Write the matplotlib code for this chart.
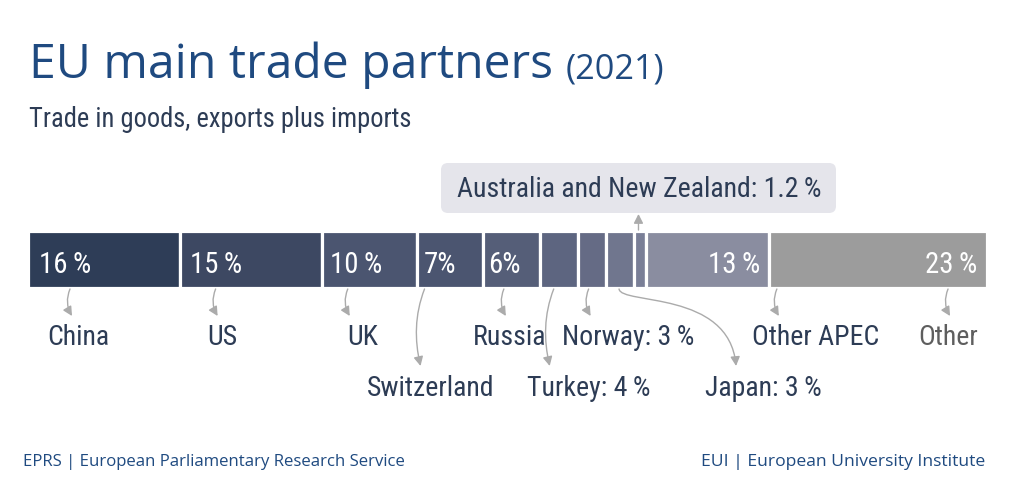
import matplotlib
matplotlib.use("Agg")
import matplotlib.pyplot as plt
import numpy as np
from matplotlib import font_manager
from matplotlib.ft2font import FT2Font
from matplotlib.patches import FancyArrowPatch, FancyBboxPatch
from matplotlib.path import Path
from matplotlib.transforms import Affine2D

# data: share of EU trade in goods (exports + imports), 2021, in %
partners = ["China", "US", "UK", "Switzerland", "Russia", "Turkey", "Norway",
            "Japan", "Australia and New Zealand", "Other APEC", "Other"]
shares = [16, 15, 10, 7, 6, 4, 3, 3, 1.2, 13, 23]
bar_labels = ["16 %", "15 %", "10 %", "7%", "6%", "", "", "", "", "13 %", "23 %"]
name_labels = ["China", "US", "UK", "Switzerland", "Russia", "Turkey: 4 %",
               "Norway: 3 %", "Japan: 3 %", "Australia and New Zealand: 1.2 %",
               "Other APEC", "Other"]
colors = ["#2e3d57", "#3d4862", "#4b5570", "#4b5570", "#555e78", "#5d6580",
          "#656b85", "#70768e", "#7a7f97", "#8a8da0", "#9c9c9c"]

W, H = 1036, 500
BLUE = "#1f4a80"
NAVY = "#2d3c55"
ARROW = "#ababab"

names = {f.name for f in font_manager.fontManager.ttflist}
narrow = {"family": "DejaVu Sans"}
for cand in ["Roboto Condensed", "Liberation Sans Narrow", "Open Sans Condensed",
             "Noto Sans Condensed", "DejaVu Sans Condensed"]:
    if cand in names:
        narrow = {"family": cand}
        break
regular = {"family": "Open Sans" if "Open Sans" in names else "DejaVu Sans"}

# the reference puts a thin space before "%"; use it when the font has one
try:
    fpath = font_manager.findfont(font_manager.FontProperties(**narrow))
    has_thin = 0x2009 in FT2Font(fpath).get_charmap()
except Exception:
    has_thin = False
if has_thin:
    bar_labels = [s.replace(" %", "\u2009%") for s in bar_labels]
    name_labels = [s.replace(" %", "\u2009%") for s in name_labels]

fig = plt.figure(figsize=(W / 100, H / 100), dpi=100)
px = Affine2D().scale(1 / W, -1 / H).translate(0, 1) + fig.transFigure
renderer = fig.canvas.get_renderer()


def fitted(t, width):
    w = t.get_window_extent(renderer).width
    return t.get_fontsize() * width / w


def fit(t, width):
    t.set_fontsize(fitted(t, width))
    return t


def fit_group(items, boost=1.0):
    # one common size for a group, so the texts match the reference widths on average
    size = float(np.median([fitted(t, w) for t, w in items])) * boost
    for t, _ in items:
        t.set_fontsize(size)


total = sum(shares)
ax = fig.add_axes([28 / W, 0, 959 / W, 1])
ax.set_xlim(0, total)
ax.set_ylim(H, 0)  # y in pixels from top
ax.axis("off")
ppx = 959 / total  # pixels per percent


def dx(p):
    return p / ppx


def fx(p):
    return (p - 28) / ppx


lefts = [sum(shares[:i]) for i in range(len(shares))]
ax.barh(259, shares, left=lefts, height=57, color=colors,
        edgecolor="white", linewidth=2.3)

# value labels inside the bar: (offset px from segment edge, width px)
val_lay = [(11, 50), (10, 49), (8, 51), (7, 35), (5, 34), None, None, None, None,
           (9, 50), (10, 49)]
group = []
for i, lab in enumerate(bar_labels):
    if not lab:
        continue
    off, wd = val_lay[i]
    if i >= 9:
        t = ax.text(lefts[i] + shares[i] - dx(off), 273, lab, ha="right", va="baseline",
                    color="white", fontsize=23, **narrow)
    else:
        t = ax.text(lefts[i] + dx(off), 273, lab, ha="left", va="baseline",
                    color="white", fontsize=23, **narrow)
    group.append((t, wd))
fit_group(group, 1.04)

# name labels: (arrow x offset px within segment, label left px, label right px, baseline, arrow end y)
lay = [
    (42, 47, 108, 345, 316),
    (36, 207, 231, 345, 316),
    (26, 347, 375, 345, 316),
    (8, 367, 497, 396, 366),
    (21, 473, 538, 345, 316),
    (14, 527, 647, 396, 366),
    (11, 562, 693, 345, 316),
    (13, 705, 817, 396, 366),
    (4, None, None, None, None),
    (131, 752, 870, 345, 316),
    (179, 918, 982, 345, 316),
]

ASTYLE = "-|>,head_length=0.55,head_width=0.28"
group = []
for i, (aoff, lx, rx, base, tipy) in enumerate(lay):
    ax0 = lefts[i] + dx(aoff)
    if lx is None:
        continue
    col = "#5e5e5e" if partners[i] == "Other" else NAVY
    t = ax.text(fx(lx), base, name_labels[i], ha="left", va="baseline",
                color=col, fontsize=22, **narrow)
    group.append((t, rx - lx))
    if tipy < 330:
        ax.add_patch(FancyArrowPatch((ax0, 289), (ax0 + dx(2), tipy),
                                     connectionstyle="arc3,rad=0.25",
                                     arrowstyle=ASTYLE, mutation_scale=10,
                                     color=ARROW, lw=1.0, shrinkA=0, shrinkB=0))

# Australia and New Zealand call-out
box = FancyBboxPatch((441, 163), 395, 50, boxstyle="round,pad=0,rounding_size=7",
                     transform=px, fc="#e5e5eb", ec="none")
fig.add_artist(box)
t = fig.text(457, 197, name_labels[8], transform=px, ha="left", va="baseline",
             color=NAVY, fontsize=22, **narrow)
group.append((t, 356))
fit_group(group, 1.03)
x_an = lefts[8] + dx(4)
ax.add_patch(FancyArrowPatch((x_an, 230), (x_an, 214), arrowstyle=ASTYLE,
                             mutation_scale=10, color=ARROW, lw=1.0,
                             shrinkA=0, shrinkB=0))

# long curved arrows
x_sw = lefts[3] + dx(8)
x_tu = lefts[5] + dx(14)
x_ja = lefts[7] + dx(13)
for verts in [
    [(x_sw, 289), (x_sw - dx(10), 315), (x_sw - dx(10), 340), (x_sw - dx(4), 366)],
    [(x_tu, 289), (x_tu - dx(10), 315), (x_tu - dx(10), 340), (x_tu - dx(4), 366)],
    [(x_ja, 289), (x_ja + dx(2), 305), (x_ja + dx(110), 290), (x_ja + dx(117), 366)],
]:
    path = Path(verts, [Path.MOVETO, Path.CURVE4, Path.CURVE4, Path.CURVE4])
    ax.add_patch(FancyArrowPatch(path=path, arrowstyle=ASTYLE, mutation_scale=10,
                                 color=ARROW, lw=1.0, shrinkA=0, shrinkB=0))

# titles and footers
t1 = fig.text(29, 78, "EU main trade partners", transform=px, ha="left",
              va="baseline", color=BLUE, fontsize=38, **regular)
fit(t1, 523)
t2 = fig.text(566, 78, "(2021)", transform=px, ha="left", va="baseline",
              color=BLUE, fontsize=24, **regular)
fit(t2, 99)
t3 = fig.text(29, 127, "Trade in goods, exports plus imports", transform=px,
              ha="left", va="baseline", color=NAVY, fontsize=23, **narrow)
fit(t3, 384)
t4 = fig.text(23, 466, "EPRS | European Parliamentary Research Service",
              transform=px, ha="left", va="baseline", color=BLUE, fontsize=13,
              **regular)
fit(t4, 380)
t5 = fig.text(985, 466, "EUI | European University Institute", transform=px,
              ha="right", va="baseline", color=BLUE, fontsize=13, **regular)
fit(t5, 282)

fig.savefig("out.png", dpi=100)
